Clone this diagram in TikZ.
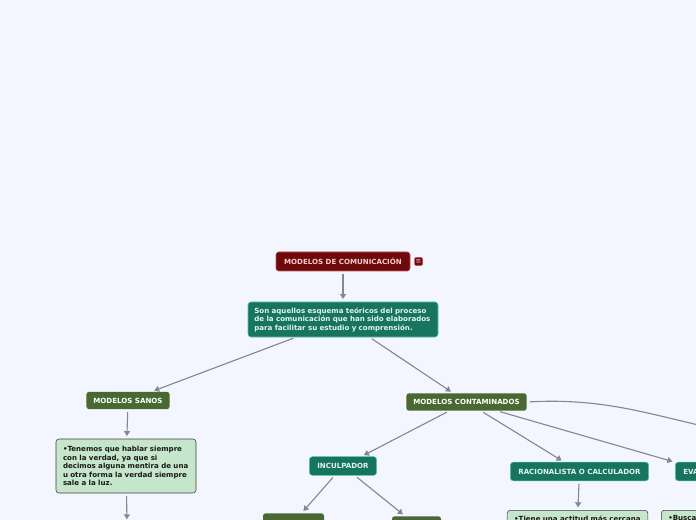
\documentclass[tikz,border=0pt]{standalone}
\usepackage{fontspec}
\setmainfont{DejaVu Sans}
\usetikzlibrary{arrows.meta, positioning, calc}
\definecolor{bgblue}{RGB}{243,246,255}
\definecolor{titlered}{RGB}{110,10,12}
\definecolor{titleedge}{RGB}{190,80,90}
\definecolor{titletext}{RGB}{245,205,205}
\definecolor{tealfill}{RGB}{23,116,94}
\definecolor{tealedge}{RGB}{90,200,165}
\definecolor{tealtext}{RGB}{225,245,238}
\definecolor{darkgreen}{RGB}{72,106,50}
\definecolor{notegreen}{RGB}{198,230,204}
\definecolor{noteedge}{RGB}{60,60,60}
\definecolor{conngrey}{RGB}{135,135,145}
\tikzset{
    % Box looks
    titlebox/.style={draw=titleedge, fill=titlered, text=titletext, rounded corners=2pt,
        font=\fontsize{5.3}{6}\selectfont\bfseries, minimum width=100.5pt, minimum height=14.25pt, inner sep=1pt},
    descbox/.style={draw=tealedge, fill=tealfill, text=tealtext, rounded corners=2.25pt,
        font=\fontsize{5.3}{6.4}\selectfont\bfseries, text width=133pt, align=left,
        inner xsep=4.75pt, inner ysep=4pt, minimum height=26.25pt},
    modelbox/.style={fill=darkgreen, text=white, rounded corners=2pt,
        font=\fontsize{5.3}{6}\selectfont\bfseries, minimum height=13pt, inner xsep=5.25pt, inner ysep=1pt},
    typebox/.style={draw=tealedge, fill=tealfill, text=tealtext, rounded corners=2.25pt,
        font=\fontsize{5.3}{6}\selectfont\bfseries, minimum height=14pt, inner xsep=6pt, inner ysep=1pt},
    notebox/.style={draw=noteedge, fill=notegreen, text=black!90, rounded corners=2.25pt,
        font=\fontsize{5.3}{6.4}\selectfont\bfseries, align=left, inner xsep=5.25pt, inner ysep=4pt},
    conn/.style={draw=conngrey, line width=0.85pt, shorten >=2pt, shorten <=2pt,
        -{Triangle[width=4.5pt, length=3.75pt, fill=conngrey]}}
}
\begin{document}
\begin{tikzpicture}[x=0.75pt, y=-0.75pt]
    \useasboundingbox[fill=bgblue] (0,0) rectangle (696,520);
    \clip (0,0) rectangle (696,520);

    % Main topic and description
    \node[titlebox] (title) at (343,261.5) {MODELOS DE COMUNICACIÓN};
    \node[draw=titleedge, fill=titlered, text=titletext, rounded corners=1pt, minimum size=6pt,
        inner sep=0pt, font=\fontsize{5}{5}\selectfont, right=3pt of title] (icon) {≡};
    \node[descbox] (desc) at (343,319.5) {Son aquellos esquema teóricos del proceso\\
        de la comunicación que han sido elaborados\\ para facilitar su estudio y comprensión.};

    % Two families of models
    \node[modelbox] (sanos) at (128,400.5) {MODELOS SANOS};
    \node[modelbox] (contam) at (466.5,402) {MODELOS CONTAMINADOS};

    % Healthy models note
    \node[notebox, text width=94.5pt, minimum height=40.5pt] (sanosnote) at (126,466)
        {•Tenemos que hablar siempre\\ con la verdad, ya que si\\ decimos alguna mentira de una\\
         u otra forma la verdad siempre\\ sale a la luz.};
    \coordinate (sanosnext) at (127,522);

    % Contaminated model types
    \node[typebox] (inculp) at (343,466) {INCULPADOR};
    \node[typebox] (racion) at (579.5,471.5) {RACIONALISTA O CALCULADOR};
    \node[typebox, anchor=west] (evalua) at (675,471.5) {EVALUADOR};
    \coordinate (contamnext) at (730,432);

    % Sub-boxes below the types (cut by the border)
    \node[modelbox, minimum width=45.75pt, minimum height=13.5pt, anchor=north] (inculpa) at (293.5,513) {};
    \node[modelbox, minimum width=36.75pt, minimum height=13.5pt, anchor=north] (inculpb) at (416.5,516) {};
    \node[notebox, text width=95pt, anchor=north] (racionnote) at (577.5,510)
        {•Tiene una actitud más cercana};
    \node[notebox, text width=95pt, anchor=north west] (evalnote) at (661,510)
        {•Busca};

    % Connections
    \draw[conn] (title) -- (desc);
    \draw[conn] (desc) -- (sanos);
    \draw[conn] (desc) -- (contam);
    \draw[conn] (sanos) -- (sanosnote);
    \draw[conn] (sanosnote) -- (sanosnext);
    \draw[conn] (contam) -- (inculp);
    \draw[conn] (contam) -- (racion);
    \draw[conn] (contam) -- (evalua);
    \draw[conn] (contam.east) to[out=3, in=168] (contamnext);
    \draw[conn] (inculp) -- (inculpa);
    \draw[conn] (inculp) -- (inculpb);
    \draw[conn] (racion) -- (racionnote);
    \draw[conn] (evalua) -- (evalnote);
\end{tikzpicture}
\end{document}
